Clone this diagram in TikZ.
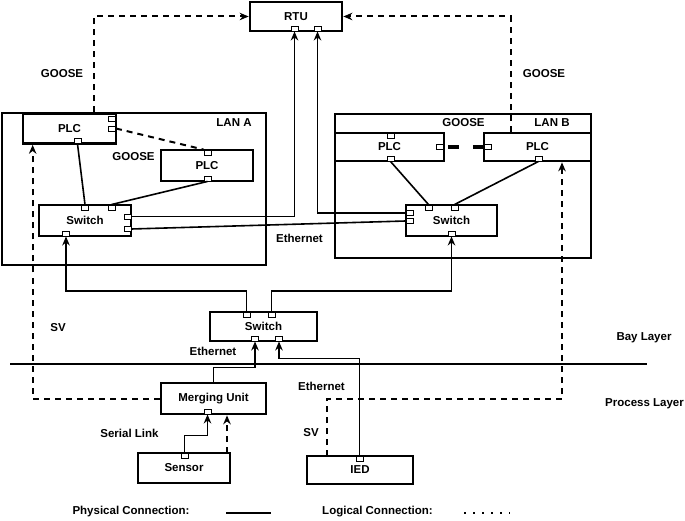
\documentclass[tikz,border=0pt]{standalone}
\usepackage{fontspec}
\setmainfont{Liberation Sans}
\usetikzlibrary{arrows.meta}
\begin{document}
\begin{tikzpicture}[x=1pt,y=-1pt,
  every node/.style={font=\fontsize{11.5}{13}\selectfont\bfseries, inner sep=0pt},
  box/.style={draw, line width=2.7pt, rectangle},
  port/.style={draw, line width=0.9pt, fill=white, rectangle, minimum width=7pt, minimum height=5pt},
  phys/.style={line width=1.6pt},
  logic/.style={line width=2pt, dash pattern=on 6pt off 5pt},
  tip/.style={-{Stealth[length=9pt,width=7.5pt]}},
  lbl/.style={anchor=center}
]
\useasboundingbox (0,0) rectangle (685,521);

% RTU
\node[box, minimum width=92pt, minimum height=29pt] (rtu) at (296,16.5) {RTU};
\node[port] (rtuA) at (294.5,28.5) {};
\node[port] (rtuB) at (317.5,28.5) {};

% LAN A
\node[box, minimum width=264pt, minimum height=152pt] (lanA) at (134,189) {};
\node[lbl] (lanAlbl) at (234,123) {LAN A};
\node[box, minimum width=93pt, minimum height=30pt] (plc1) at (69.5,128.5) {PLC};
\node[port] (p1r1) at (112,119) {};
\node[port] (p1r2) at (112,128.5) {};
\node[port] (p1b) at (77.5,141) {};
\node[box, minimum width=92pt, minimum height=31pt] (plc2) at (207,165.5) {PLC};
\node[port] (p2t) at (207.5,152.5) {};
\node[port] (p2b) at (207.5,178.5) {};
\node[lbl] (gooseA) at (133.5,157) {GOOSE};
\node[box, minimum width=92pt, minimum height=31pt] (swA) at (85,220.5) {Switch};
\node[port] (swAt1) at (85,207.5) {};
\node[port] (swAt2) at (111.5,207.5) {};
\node[port] (swAr1) at (127.5,216.5) {};
\node[port] (swAr2) at (127.5,229) {};
\node[port] (swAb) at (66,233.5) {};

% LAN B
\node[box, minimum width=256pt, minimum height=144pt] (lanB) at (463,186) {};
\node[lbl] (lanBlbl) at (552,123) {LAN B};
\node[lbl] (gooseB) at (463.5,123) {GOOSE};
\node[box, minimum width=109pt, minimum height=28pt] (plcL) at (389.5,147) {PLC};
\node[port] (pLt) at (390.5,135.5) {};
\node[port] (pLr) at (440,147) {};
\node[port] (pLb) at (390.5,158.5) {};
\node[box, minimum width=107pt, minimum height=28pt] (plcR) at (537.5,147) {PLC};
\node[port] (pRl) at (487.5,147) {};
\node[port] (pRb) at (538.5,158.5) {};
\node[box, minimum width=91pt, minimum height=31pt] (swB) at (451.5,220.5) {Switch};
\node[port] (swBt1) at (428.5,207.5) {};
\node[port] (swBt2) at (454.5,207.5) {};
\node[port] (swBl1) at (409.5,213) {};
\node[port] (swBl2) at (409.5,221) {};
\node[port] (swBb) at (451.5,233.5) {};
\node[lbl] (ethMid) at (299.5,238) {Ethernet};

% bay switch
\node[box, minimum width=107pt, minimum height=29pt] (swC) at (263.5,326.5) {Switch};
\node[port] (swCt1) at (246.5,315) {};
\node[port] (swCt2) at (271.5,315) {};
\node[port] (swCb1) at (255,338.5) {};
\node[port] (swCb2) at (279,338.5) {};

% process devices
\node[box, minimum width=105pt, minimum height=31pt] (mu) at (213.5,398.5) {Merging Unit};
\node[port] (mup) at (207.5,411.5) {};
\node[box, minimum width=92pt, minimum height=30pt] (sensor) at (184,468) {Sensor};
\node[port] (senp) at (184.5,455.5) {};
\node[box, minimum width=106pt, minimum height=28pt] (ied) at (360,470) {IED};
\node[port] (iedp) at (359.5,458.5) {};

% labels
\node[lbl] (gooseL) at (62,74) {GOOSE};
\node[lbl] (gooseR) at (544,74) {GOOSE};
\node[lbl] (svL) at (58,328) {SV};
\node[lbl] (ethC) at (213,351) {Ethernet};
\node[lbl] (bay) at (644,338) {Bay Layer};
\node[lbl] (proc) at (644.5,404) {Process Layer};
\node[lbl] (ethI) at (321.5,386) {Ethernet};
\node[lbl] (svR) at (311,433) {SV};
\node[lbl] (serial) at (129.5,433) {Serial Link};

% layer separator
\coordinate (layL) at (10,364);
\coordinate (layR) at (647,364);
\draw[phys] (layL) -- (layR);

% physical connections inside LANs
\draw[phys] (p1b.south) -- (swAt1.north);
\draw[phys] (p2b.south) -- (swAt2.north);
\draw[phys] (pLb.south) -- (swBt1.north);
\draw[phys] (pRb.south) -- (swBt2.north);
\draw[phys] (swAr2.east) -- (swBl2.west);
\draw[phys,tip] (swAr1.east) -| (rtuA.south);
\draw[phys,tip] (swBl1.west) -| (rtuB.south);

% bay switch uplinks
\draw[phys,tip] (swCt1.north) -- ++(0,-21) -| (swAb.south);
\draw[phys,tip] (swCt2.north) -- ++(0,-21) -| (swBb.south);

% process links
\draw[phys,tip] (mu.north) -- ++(0,-14) -| (swCb1.south);
\draw[phys,tip] (iedp.north) -- ++(0,-97) -| (swCb2.south);
\draw[phys,tip] (senp.north) -- ++(0,-17) -| (mup.south);
\coordinate (sdash) at (227,453);
\draw[logic,tip] (sdash) -- (sdash |- mu.south);

% logical connections
\draw[logic,tip] ([xshift=72pt]plc1.north west) |- (rtu.west);
\draw[logic,tip] ([xshift=28pt]plcR.north west) |- (rtu.east);
\draw[logic] (p1r2.east) -- (p2t.north west);
\draw[line width=3.4pt, dash pattern=on 11pt off 14pt, dash phase=21pt] (pLr.east) -- (pRl.west);
\draw[logic,tip] (mu.west) -| ([xshift=11pt]plc1.south west);
\coordinate (svRs) at (327,456);
\draw[logic,tip] (svRs) -- ++(0,-57) -| ([xshift=24.5pt]plcR.south);

% legend
\node[lbl] (legP) at (131,512) {Physical Connection:};
\node[lbl] (legL) at (377.5,512) {Logical Connection:};
\coordinate (lp1) at (226,513);
\coordinate (lp2) at (271,513);
\draw[line width=2.2pt] (lp1) -- (lp2);
\coordinate (ll1) at (464,513);
\coordinate (ll2) at (510,513);
\draw[line width=2pt, dash pattern=on 2pt off 7pt] (ll1) -- (ll2);
\end{tikzpicture}
\end{document}
